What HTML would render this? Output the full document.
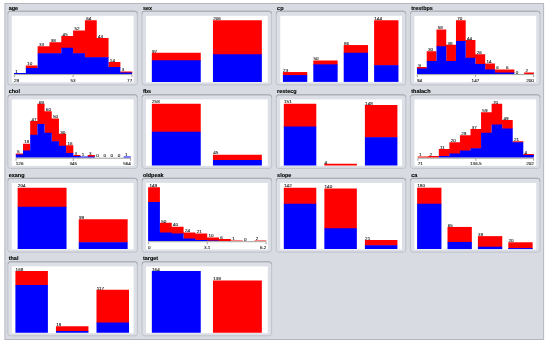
<!DOCTYPE html>
<html><head><meta charset="utf-8"><style>
html,body{margin:0;padding:0;background:#fff;width:550px;height:343px;overflow:hidden}
svg{display:block}
.t{font-family:"Liberation Sans",Arial,sans-serif;font-weight:bold;font-size:5.85px;fill:#000;stroke:#000;stroke-width:0.12px}
.n{font-family:"Liberation Sans",Arial,sans-serif;font-size:4.2px;fill:#111;stroke:#111;stroke-width:0.08px}
.ax{stroke:#555;stroke-width:0.55}
</style></head><body>
<svg width="550" height="343" viewBox="0 0 550 343">
<rect x="4.9" y="3.5" width="538.7" height="336" fill="#d8dbe2" stroke="#b3b6bd" stroke-width="1"/>
<rect x="7.8" y="11.2" width="129.6" height="73.7" rx="2.5" fill="#dcdfe5" stroke="#b7bac1" stroke-width="0.8"/>
<path d="M8 13.7 Q7.8 11.2 10.3 11.2 L134.9 11.2 Q137.4 11.2 137.2 13.7" fill="none" stroke="#a6a9b0" stroke-width="1"/>
<rect x="11.8" y="15.8" width="121.8" height="66.5" fill="#fff"/>
<text transform="translate(8.7 9.5) scale(0.94 1)" class="t">age</text>
<path d="M14 73.9 L14 73.9 L25.82 73.9 L25.82 65.52 L37.64 65.52 L37.64 46.3 L49.46 46.3 L49.46 42.36 L61.28 42.36 L61.28 35.95 L73.1 35.95 L73.1 30.53 L84.92 30.53 L84.92 20.18 L96.74 20.18 L96.74 37.93 L108.56 37.93 L108.56 62.07 L120.38 62.07 L120.38 71.44 L132.2 71.44 L132.2 73.02 L120.38 73.02 L120.38 67.6 L108.56 67.6 L108.56 57.74 L96.74 57.74 L96.74 57.74 L84.92 57.74 L84.92 53.8 L73.1 53.8 L73.1 48.38 L61.28 48.38 L61.28 53.8 L49.46 53.8 L49.46 53.8 L37.64 53.8 L37.64 68.59 L25.82 68.59 L25.82 73.9 L14 73.9 Z" fill="#ff0000"/>
<path d="M14 73.9 L14 72.91 L25.82 72.91 L25.82 67.99 L37.64 67.99 L37.64 53.2 L49.46 53.2 L49.46 53.2 L61.28 53.2 L61.28 47.78 L73.1 47.78 L73.1 53.2 L84.92 53.2 L84.92 57.14 L96.74 57.14 L96.74 57.14 L108.56 57.14 L108.56 67 L120.38 67 L120.38 72.42 L132.2 72.42 L132.2 73.9 Z" fill="#0000ff"/>
<text transform="translate(15.3 72.66) scale(1.1 1)" class="n">1</text>
<text transform="translate(27.12 65.27) scale(1.1 1)" class="n">10</text>
<text transform="translate(38.94 46.05) scale(1.1 1)" class="n">33</text>
<text transform="translate(50.76 42.11) scale(1.1 1)" class="n">38</text>
<text transform="translate(62.58 35.7) scale(1.1 1)" class="n">45</text>
<text transform="translate(74.4 30.28) scale(1.1 1)" class="n">52</text>
<text transform="translate(86.22 19.93) scale(1.1 1)" class="n">64</text>
<text transform="translate(98.04 37.68) scale(1.1 1)" class="n">43</text>
<text transform="translate(109.86 61.82) scale(1.1 1)" class="n">14</text>
<text transform="translate(121.68 71.19) scale(1.1 1)" class="n">3</text>
<line x1="14" y1="74.6" x2="132.2" y2="74.6" class="ax"/>
<line x1="14.25" y1="75" x2="14.25" y2="77.2" class="ax"/>
<line x1="73.1" y1="75" x2="73.1" y2="77.2" class="ax"/>
<line x1="131.95" y1="75" x2="131.95" y2="77.2" class="ax"/>
<text transform="translate(14 81.5) scale(1.1 1)" class="n">29</text>
<text transform="translate(73.1 81.5) scale(1.1 1)" class="n" text-anchor="middle">53</text>
<text transform="translate(132.2 81.5) scale(1.1 1)" class="n" text-anchor="end">77</text>
<rect x="410.4" y="11.2" width="129.6" height="73.7" rx="2.5" fill="#dcdfe5" stroke="#b7bac1" stroke-width="0.8"/>
<path d="M410.6 13.7 Q410.4 11.2 412.9 11.2 L537.5 11.2 Q540 11.2 539.8 13.7" fill="none" stroke="#a6a9b0" stroke-width="1"/>
<rect x="414.4" y="15.8" width="121.8" height="66.5" fill="#fff"/>
<text transform="translate(411.3 9.5) scale(0.94 1)" class="t">trestbps</text>
<path d="M417 69.08 L417 67 L426.74 67 L426.74 51.23 L436.48 51.23 L436.48 29.55 L446.22 29.55 L446.22 44.82 L455.96 44.82 L455.96 20.18 L465.7 20.18 L465.7 39.9 L475.44 39.9 L475.44 54.19 L485.18 54.19 L485.18 63.55 L494.92 63.55 L494.92 69.46 L504.66 69.46 L504.66 69.46 L514.4 69.46 L514.4 73.9 L524.14 73.9 L524.14 72.42 L533.88 72.42 L533.88 73.9 L524.14 73.9 L524.14 73.9 L514.4 73.9 L514.4 73.02 L504.66 73.02 L504.66 73.02 L494.92 73.02 L494.92 70.06 L485.18 70.06 L485.18 64.64 L475.44 64.64 L475.44 58.24 L465.7 58.24 L465.7 41.48 L455.96 41.48 L455.96 61.69 L446.22 61.69 L446.22 46.9 L436.48 46.9 L436.48 61.69 L426.74 61.69 L426.74 69.08 L417 69.08 Z" fill="#ff0000"/>
<path d="M417 73.9 L417 68.48 L426.74 68.48 L426.74 61.09 L436.48 61.09 L436.48 46.3 L446.22 46.3 L446.22 61.09 L455.96 61.09 L455.96 40.88 L465.7 40.88 L465.7 57.64 L475.44 57.64 L475.44 64.04 L485.18 64.04 L485.18 69.46 L494.92 69.46 L494.92 72.42 L504.66 72.42 L504.66 72.42 L514.4 72.42 L514.4 73.9 L524.14 73.9 L524.14 73.9 L533.88 73.9 L533.88 73.9 Z" fill="#0000ff"/>
<text transform="translate(418.3 66.75) scale(1.1 1)" class="n">9</text>
<text transform="translate(428.04 50.98) scale(1.1 1)" class="n">30</text>
<text transform="translate(437.78 29.3) scale(1.1 1)" class="n">58</text>
<text transform="translate(447.52 44.57) scale(1.1 1)" class="n">38</text>
<text transform="translate(457.26 19.93) scale(1.1 1)" class="n">70</text>
<text transform="translate(467 39.65) scale(1.1 1)" class="n">44</text>
<text transform="translate(476.74 53.94) scale(1.1 1)" class="n">26</text>
<text transform="translate(486.48 63.3) scale(1.1 1)" class="n">14</text>
<text transform="translate(496.22 69.21) scale(1.1 1)" class="n">6</text>
<text transform="translate(505.96 69.21) scale(1.1 1)" class="n">6</text>
<text transform="translate(515.7 73.65) scale(1.1 1)" class="n">0</text>
<text transform="translate(525.44 72.17) scale(1.1 1)" class="n">2</text>
<line x1="417" y1="74.6" x2="533.88" y2="74.6" class="ax"/>
<line x1="417.25" y1="75" x2="417.25" y2="77.2" class="ax"/>
<line x1="475.44" y1="75" x2="475.44" y2="77.2" class="ax"/>
<line x1="533.63" y1="75" x2="533.63" y2="77.2" class="ax"/>
<text transform="translate(417 81.5) scale(1.1 1)" class="n">94</text>
<text transform="translate(475.44 81.5) scale(1.1 1)" class="n" text-anchor="middle">147</text>
<text transform="translate(533.88 81.5) scale(1.1 1)" class="n" text-anchor="end">200</text>
<rect x="7.8" y="94.8" width="129.6" height="73.6" rx="2.5" fill="#dcdfe5" stroke="#b7bac1" stroke-width="0.8"/>
<path d="M8 97.3 Q7.8 94.8 10.3 94.8 L134.9 94.8 Q137.4 94.8 137.2 97.3" fill="none" stroke="#a6a9b0" stroke-width="1"/>
<rect x="11.8" y="99.4" width="121.8" height="66.4" fill="#fff"/>
<text transform="translate(8.7 93.1) scale(0.94 1)" class="t">chol</text>
<path d="M15.8 155.14 L15.8 153.56 L22.99 153.56 L22.99 143.7 L30.18 143.7 L30.18 121.03 L37.37 121.03 L37.37 103.78 L44.56 103.78 L44.56 111.18 L51.75 111.18 L51.75 118.57 L58.94 118.57 L58.94 133.85 L66.13 133.85 L66.13 145.18 L73.32 145.18 L73.32 155.04 L80.51 155.04 L80.51 157.5 L87.7 157.5 L87.7 155.04 L94.89 155.04 L94.89 157.5 L102.08 157.5 L102.08 157.5 L109.27 157.5 L109.27 157.5 L116.46 157.5 L116.46 157.5 L123.65 157.5 L123.65 157.5 L130.84 157.5 L130.84 157.5 L123.65 157.5 L123.65 157.5 L116.46 157.5 L116.46 157.5 L109.27 157.5 L109.27 157.5 L102.08 157.5 L102.08 157.5 L94.89 157.5 L94.89 157.11 L87.7 157.11 L87.7 157.5 L80.51 157.5 L80.51 156.62 L73.32 156.62 L73.32 153.66 L66.13 153.66 L66.13 146.27 L58.94 146.27 L58.94 141.84 L51.75 141.84 L51.75 133.46 L44.56 133.46 L44.56 124.59 L37.37 124.59 L37.37 135.43 L30.18 135.43 L30.18 151.2 L22.99 151.2 L22.99 155.14 L15.8 155.14 Z" fill="#ff0000"/>
<path d="M15.8 157.5 L15.8 154.54 L22.99 154.54 L22.99 150.6 L30.18 150.6 L30.18 134.83 L37.37 134.83 L37.37 123.99 L44.56 123.99 L44.56 132.86 L51.75 132.86 L51.75 141.24 L58.94 141.24 L58.94 145.67 L66.13 145.67 L66.13 153.06 L73.32 153.06 L73.32 156.02 L80.51 156.02 L80.51 156.51 L87.7 156.51 L87.7 156.51 L94.89 156.51 L94.89 157.5 L102.08 157.5 L102.08 157.5 L109.27 157.5 L109.27 157.5 L116.46 157.5 L116.46 157.5 L123.65 157.5 L123.65 156.51 L130.84 156.51 L130.84 157.5 Z" fill="#0000ff"/>
<text transform="translate(17.1 153.31) scale(1.1 1)" class="n">5</text>
<text transform="translate(24.29 143.45) scale(1.1 1)" class="n">18</text>
<text transform="translate(31.48 120.78) scale(1.1 1)" class="n">47</text>
<text transform="translate(38.67 103.53) scale(1.1 1)" class="n">69</text>
<text transform="translate(45.86 110.93) scale(1.1 1)" class="n">60</text>
<text transform="translate(53.05 118.32) scale(1.1 1)" class="n">50</text>
<text transform="translate(60.24 133.6) scale(1.1 1)" class="n">30</text>
<text transform="translate(67.43 144.93) scale(1.1 1)" class="n">16</text>
<text transform="translate(74.62 154.79) scale(1.1 1)" class="n">3</text>
<text transform="translate(81.81 156.26) scale(1.1 1)" class="n">1</text>
<text transform="translate(89 154.79) scale(1.1 1)" class="n">3</text>
<text transform="translate(96.19 157.25) scale(1.1 1)" class="n">0</text>
<text transform="translate(103.38 157.25) scale(1.1 1)" class="n">0</text>
<text transform="translate(110.57 157.25) scale(1.1 1)" class="n">0</text>
<text transform="translate(117.76 157.25) scale(1.1 1)" class="n">0</text>
<text transform="translate(124.95 156.26) scale(1.1 1)" class="n">1</text>
<line x1="15.8" y1="158.2" x2="130.84" y2="158.2" class="ax"/>
<line x1="16.05" y1="158.6" x2="16.05" y2="160.8" class="ax"/>
<line x1="73.32" y1="158.6" x2="73.32" y2="160.8" class="ax"/>
<line x1="130.59" y1="158.6" x2="130.59" y2="160.8" class="ax"/>
<text transform="translate(15.8 165.1) scale(1.1 1)" class="n">126</text>
<text transform="translate(73.32 165.1) scale(1.1 1)" class="n" text-anchor="middle">345</text>
<text transform="translate(130.84 165.1) scale(1.1 1)" class="n" text-anchor="end">564</text>
<rect x="410.4" y="94.8" width="129.6" height="73.6" rx="2.5" fill="#dcdfe5" stroke="#b7bac1" stroke-width="0.8"/>
<path d="M410.6 97.3 Q410.4 94.8 412.9 94.8 L537.5 94.8 Q540 94.8 539.8 97.3" fill="none" stroke="#a6a9b0" stroke-width="1"/>
<rect x="414.4" y="99.4" width="121.8" height="66.4" fill="#fff"/>
<text transform="translate(411.3 93.1) scale(0.94 1)" class="t">thalach</text>
<path d="M417.7 157.5 L417.7 156.51 L428.26 156.51 L428.26 156.02 L438.82 156.02 L438.82 149.12 L449.38 149.12 L449.38 142.22 L459.94 142.22 L459.94 135.32 L470.5 135.32 L470.5 128.92 L481.06 128.92 L481.06 112.16 L491.62 112.16 L491.62 103.78 L502.18 103.78 L502.18 120.05 L512.74 120.05 L512.74 141.24 L523.3 141.24 L523.3 154.05 L533.86 154.05 L533.86 155.64 L523.3 155.64 L523.3 142.82 L512.74 142.82 L512.74 129.02 L502.18 129.02 L502.18 125.08 L491.62 125.08 L491.62 133.46 L481.06 133.46 L481.06 148.74 L470.5 148.74 L470.5 151.2 L459.94 151.2 L459.94 154.16 L449.38 154.16 L449.38 156.62 L438.82 156.62 L438.82 157.5 L428.26 157.5 L428.26 157.5 L417.7 157.5 Z" fill="#ff0000"/>
<path d="M417.7 157.5 L417.7 157.5 L428.26 157.5 L428.26 157.5 L438.82 157.5 L438.82 156.02 L449.38 156.02 L449.38 153.56 L459.94 153.56 L459.94 150.6 L470.5 150.6 L470.5 148.14 L481.06 148.14 L481.06 132.86 L491.62 132.86 L491.62 124.48 L502.18 124.48 L502.18 128.42 L512.74 128.42 L512.74 142.22 L523.3 142.22 L523.3 155.04 L533.86 155.04 L533.86 157.5 Z" fill="#0000ff"/>
<text transform="translate(419 156.26) scale(1.1 1)" class="n">1</text>
<text transform="translate(429.56 155.77) scale(1.1 1)" class="n">2</text>
<text transform="translate(440.12 148.87) scale(1.1 1)" class="n">11</text>
<text transform="translate(450.68 141.97) scale(1.1 1)" class="n">20</text>
<text transform="translate(461.24 135.07) scale(1.1 1)" class="n">29</text>
<text transform="translate(471.8 128.67) scale(1.1 1)" class="n">37</text>
<text transform="translate(482.36 111.91) scale(1.1 1)" class="n">59</text>
<text transform="translate(492.92 103.53) scale(1.1 1)" class="n">70</text>
<text transform="translate(503.48 119.8) scale(1.1 1)" class="n">49</text>
<text transform="translate(514.04 140.99) scale(1.1 1)" class="n">21</text>
<text transform="translate(524.6 153.8) scale(1.1 1)" class="n">4</text>
<line x1="417.7" y1="158.2" x2="533.86" y2="158.2" class="ax"/>
<line x1="417.95" y1="158.6" x2="417.95" y2="160.8" class="ax"/>
<line x1="475.78" y1="158.6" x2="475.78" y2="160.8" class="ax"/>
<line x1="533.61" y1="158.6" x2="533.61" y2="160.8" class="ax"/>
<text transform="translate(417.7 165.1) scale(1.1 1)" class="n">71</text>
<text transform="translate(475.78 165.1) scale(1.1 1)" class="n" text-anchor="middle">136.5</text>
<text transform="translate(533.86 165.1) scale(1.1 1)" class="n" text-anchor="end">202</text>
<rect x="142" y="178.3" width="129.6" height="73.8" rx="2.5" fill="#dcdfe5" stroke="#b7bac1" stroke-width="0.8"/>
<path d="M142.2 180.8 Q142 178.3 144.5 178.3 L269.1 178.3 Q271.6 178.3 271.4 180.8" fill="none" stroke="#a6a9b0" stroke-width="1"/>
<rect x="146" y="182.9" width="121.8" height="66.6" fill="#fff"/>
<text transform="translate(142.9 176.6) scale(0.94 1)" class="t">oldpeak</text>
<path d="M148.1 202.67 L148.1 187.28 L159.92 187.28 L159.92 222.77 L171.75 222.77 L171.75 226.71 L183.57 226.71 L183.57 232.62 L195.4 232.62 L195.4 233.61 L207.22 233.61 L207.22 237.55 L219.05 237.55 L219.05 239.03 L230.88 239.03 L230.88 240.51 L242.7 240.51 L242.7 241 L254.52 241 L254.52 240.51 L266.35 240.51 L266.35 241 L254.52 241 L254.52 241 L242.7 241 L242.7 241 L230.88 241 L230.88 241 L219.05 241 L219.05 241 L207.22 241 L207.22 240.61 L195.4 240.61 L195.4 239.14 L183.57 239.14 L183.57 234.21 L171.75 234.21 L171.75 233.22 L159.92 233.22 L159.92 202.67 L148.1 202.67 Z" fill="#ff0000"/>
<path d="M148.1 241 L148.1 202.07 L159.92 202.07 L159.92 232.62 L171.75 232.62 L171.75 233.61 L183.57 233.61 L183.57 238.54 L195.4 238.54 L195.4 240.01 L207.22 240.01 L207.22 240.51 L219.05 240.51 L219.05 241 L230.88 241 L230.88 241 L242.7 241 L242.7 241 L254.52 241 L254.52 241 L266.35 241 L266.35 241 Z" fill="#0000ff"/>
<text transform="translate(149.4 187.03) scale(1.1 1)" class="n">149</text>
<text transform="translate(161.22 222.52) scale(1.1 1)" class="n">50</text>
<text transform="translate(173.05 226.46) scale(1.1 1)" class="n">40</text>
<text transform="translate(184.88 232.37) scale(1.1 1)" class="n">24</text>
<text transform="translate(196.7 233.36) scale(1.1 1)" class="n">21</text>
<text transform="translate(208.53 237.3) scale(1.1 1)" class="n">10</text>
<text transform="translate(220.35 238.78) scale(1.1 1)" class="n">6</text>
<text transform="translate(232.18 240.26) scale(1.1 1)" class="n">1</text>
<text transform="translate(244 240.75) scale(1.1 1)" class="n">0</text>
<text transform="translate(255.82 240.26) scale(1.1 1)" class="n">2</text>
<line x1="148.1" y1="241.7" x2="266.35" y2="241.7" class="ax"/>
<line x1="148.35" y1="242.1" x2="148.35" y2="244.3" class="ax"/>
<line x1="207.22" y1="242.1" x2="207.22" y2="244.3" class="ax"/>
<line x1="266.1" y1="242.1" x2="266.1" y2="244.3" class="ax"/>
<text transform="translate(148.1 248.6) scale(1.1 1)" class="n">0</text>
<text transform="translate(207.22 248.6) scale(1.1 1)" class="n" text-anchor="middle">3.1</text>
<text transform="translate(266.35 248.6) scale(1.1 1)" class="n" text-anchor="end">6.2</text>
<rect x="142" y="11.2" width="129.6" height="73.7" rx="2.5" fill="#dcdfe5" stroke="#b7bac1" stroke-width="0.8"/>
<path d="M142.2 13.7 Q142 11.2 144.5 11.2 L269.1 11.2 Q271.6 11.2 271.4 13.7" fill="none" stroke="#a6a9b0" stroke-width="1"/>
<rect x="146" y="15.8" width="121.8" height="66.5" fill="#fff"/>
<text transform="translate(142.9 9.5) scale(0.94 1)" class="t">sex</text>
<path d="M151.85 60.93 V52.85 H200.75 V60.93 Z" fill="#ff0000"/>
<path d="M151.85 81.9 V60.33 H200.75 V81.9 Z" fill="#0000ff"/>
<text transform="translate(152.05 52.6) scale(1.1 1)" class="n">97</text>
<path d="M212.95 54.94 V20.2 H261.85 V54.94 Z" fill="#ff0000"/>
<path d="M212.95 81.9 V54.34 H261.85 V81.9 Z" fill="#0000ff"/>
<text transform="translate(213.15 19.95) scale(1.1 1)" class="n">206</text>
<rect x="276.2" y="11.2" width="129.6" height="73.7" rx="2.5" fill="#dcdfe5" stroke="#b7bac1" stroke-width="0.8"/>
<path d="M276.4 13.7 Q276.2 11.2 278.7 11.2 L403.3 11.2 Q405.8 11.2 405.6 13.7" fill="none" stroke="#a6a9b0" stroke-width="1"/>
<rect x="280.2" y="15.8" width="121.8" height="66.5" fill="#fff"/>
<text transform="translate(277.1 9.5) scale(0.94 1)" class="t">cp</text>
<path d="M282.9 75.64 V72.05 H307.25 V75.64 Z" fill="#ff0000"/>
<path d="M282.9 81.9 V75.04 H307.25 V81.9 Z" fill="#0000ff"/>
<text transform="translate(283.1 71.8) scale(1.1 1)" class="n">23</text>
<path d="M313.3 64.93 V60.48 H337.65 V64.93 Z" fill="#ff0000"/>
<path d="M313.3 81.9 V64.33 H337.65 V81.9 Z" fill="#0000ff"/>
<text transform="translate(313.5 60.23) scale(1.1 1)" class="n">50</text>
<path d="M343.7 53.36 V45.05 H368.05 V53.36 Z" fill="#ff0000"/>
<path d="M343.7 81.9 V52.76 H368.05 V81.9 Z" fill="#0000ff"/>
<text transform="translate(343.9 44.8) scale(1.1 1)" class="n">86</text>
<path d="M374.1 65.79 V20.2 H398.45 V65.79 Z" fill="#ff0000"/>
<path d="M374.1 81.9 V65.19 H398.45 V81.9 Z" fill="#0000ff"/>
<text transform="translate(374.3 19.95) scale(1.1 1)" class="n">144</text>
<rect x="142" y="94.8" width="129.6" height="73.6" rx="2.5" fill="#dcdfe5" stroke="#b7bac1" stroke-width="0.8"/>
<path d="M142.2 97.3 Q142 94.8 144.5 94.8 L269.1 94.8 Q271.6 94.8 271.4 97.3" fill="none" stroke="#a6a9b0" stroke-width="1"/>
<rect x="146" y="99.4" width="121.8" height="66.4" fill="#fff"/>
<text transform="translate(142.9 93.1) scale(0.94 1)" class="t">fbs</text>
<path d="M151.85 132.28 V103.7 H200.75 V132.28 Z" fill="#ff0000"/>
<path d="M151.85 165.4 V131.68 H200.75 V165.4 Z" fill="#0000ff"/>
<text transform="translate(152.05 103.45) scale(1.1 1)" class="n">258</text>
<path d="M212.95 160.5 V154.64 H261.85 V160.5 Z" fill="#ff0000"/>
<path d="M212.95 165.4 V159.9 H261.85 V165.4 Z" fill="#0000ff"/>
<text transform="translate(213.15 154.39) scale(1.1 1)" class="n">45</text>
<rect x="276.2" y="94.8" width="129.6" height="73.6" rx="2.5" fill="#dcdfe5" stroke="#b7bac1" stroke-width="0.8"/>
<path d="M276.4 97.3 Q276.2 94.8 278.7 94.8 L403.3 94.8 Q405.8 94.8 405.6 97.3" fill="none" stroke="#a6a9b0" stroke-width="1"/>
<rect x="280.2" y="99.4" width="121.8" height="66.4" fill="#fff"/>
<text transform="translate(277.1 93.1) scale(0.94 1)" class="t">restecg</text>
<path d="M283.8 127.18 V103.7 H316.3 V127.18 Z" fill="#ff0000"/>
<path d="M283.8 165.4 V126.58 H316.3 V165.4 Z" fill="#0000ff"/>
<text transform="translate(284 103.45) scale(1.1 1)" class="n">151</text>
<path d="M324.35 165.4 V163.77 H356.85 V165.4 Z" fill="#ff0000"/>
<text transform="translate(324.55 163.52) scale(1.1 1)" class="n">4</text>
<path d="M364.9 137.81 V104.93 H397.4 V137.81 Z" fill="#ff0000"/>
<path d="M364.9 165.4 V137.21 H397.4 V165.4 Z" fill="#0000ff"/>
<text transform="translate(365.1 104.68) scale(1.1 1)" class="n">148</text>
<rect x="7.8" y="178.3" width="129.6" height="73.8" rx="2.5" fill="#dcdfe5" stroke="#b7bac1" stroke-width="0.8"/>
<path d="M8 180.8 Q7.8 178.3 10.3 178.3 L134.9 178.3 Q137.4 178.3 137.2 180.8" fill="none" stroke="#a6a9b0" stroke-width="1"/>
<rect x="11.8" y="182.9" width="121.8" height="66.6" fill="#fff"/>
<text transform="translate(8.7 176.6) scale(0.94 1)" class="t">exang</text>
<path d="M17.65 207.26 V187.7 H66.55 V207.26 Z" fill="#ff0000"/>
<path d="M17.65 249.1 V206.66 H66.55 V249.1 Z" fill="#0000ff"/>
<text transform="translate(17.85 187.45) scale(1.1 1)" class="n">204</text>
<path d="M78.75 242.78 V219.3 H127.65 V242.78 Z" fill="#ff0000"/>
<path d="M78.75 249.1 V242.18 H127.65 V249.1 Z" fill="#0000ff"/>
<text transform="translate(78.95 219.05) scale(1.1 1)" class="n">99</text>
<rect x="276.2" y="178.3" width="129.6" height="73.8" rx="2.5" fill="#dcdfe5" stroke="#b7bac1" stroke-width="0.8"/>
<path d="M276.4 180.8 Q276.2 178.3 278.7 178.3 L403.3 178.3 Q405.8 178.3 405.6 180.8" fill="none" stroke="#a6a9b0" stroke-width="1"/>
<rect x="280.2" y="182.9" width="121.8" height="66.6" fill="#fff"/>
<text transform="translate(277.1 176.6) scale(0.94 1)" class="t">slope</text>
<path d="M283.8 204.3 V187.7 H316.3 V204.3 Z" fill="#ff0000"/>
<path d="M283.8 249.1 V203.7 H316.3 V249.1 Z" fill="#0000ff"/>
<text transform="translate(284 187.45) scale(1.1 1)" class="n">142</text>
<path d="M324.35 228.95 V188.56 H356.85 V228.95 Z" fill="#ff0000"/>
<path d="M324.35 249.1 V228.35 H356.85 V249.1 Z" fill="#0000ff"/>
<text transform="translate(324.55 188.31) scale(1.1 1)" class="n">140</text>
<path d="M364.9 245.81 V240.02 H397.4 V245.81 Z" fill="#ff0000"/>
<path d="M364.9 249.1 V245.21 H397.4 V249.1 Z" fill="#0000ff"/>
<text transform="translate(365.1 239.77) scale(1.1 1)" class="n">21</text>
<rect x="410.4" y="178.3" width="129.6" height="73.8" rx="2.5" fill="#dcdfe5" stroke="#b7bac1" stroke-width="0.8"/>
<path d="M410.6 180.8 Q410.4 178.3 412.9 178.3 L537.5 178.3 Q540 178.3 539.8 180.8" fill="none" stroke="#a6a9b0" stroke-width="1"/>
<rect x="414.4" y="182.9" width="121.8" height="66.6" fill="#fff"/>
<text transform="translate(411.3 176.6) scale(0.94 1)" class="t">ca</text>
<path d="M417.1 204.33 V187.7 H441.45 V204.33 Z" fill="#ff0000"/>
<path d="M417.1 249.1 V203.73 H441.45 V249.1 Z" fill="#0000ff"/>
<text transform="translate(417.3 187.45) scale(1.1 1)" class="n">180</text>
<path d="M447.5 242.54 V226.93 H471.85 V242.54 Z" fill="#ff0000"/>
<path d="M447.5 249.1 V241.94 H471.85 V249.1 Z" fill="#0000ff"/>
<text transform="translate(447.7 226.68) scale(1.1 1)" class="n">65</text>
<path d="M477.9 247.31 V236.14 H502.25 V247.31 Z" fill="#ff0000"/>
<path d="M477.9 249.1 V246.71 H502.25 V249.1 Z" fill="#0000ff"/>
<text transform="translate(478.1 235.89) scale(1.1 1)" class="n">38</text>
<path d="M508.3 248.68 V242.28 H532.65 V248.68 Z" fill="#ff0000"/>
<path d="M508.3 249.1 V248.08 H532.65 V249.1 Z" fill="#0000ff"/>
<text transform="translate(508.5 242.03) scale(1.1 1)" class="n">20</text>
<rect x="7.8" y="261.8" width="129.6" height="74" rx="2.5" fill="#dcdfe5" stroke="#b7bac1" stroke-width="0.8"/>
<path d="M8 264.3 Q7.8 261.8 10.3 261.8 L134.9 261.8 Q137.4 261.8 137.2 264.3" fill="none" stroke="#a6a9b0" stroke-width="1"/>
<rect x="11.8" y="266.4" width="121.8" height="66.8" fill="#fff"/>
<text transform="translate(8.7 260.1) scale(0.94 1)" class="t">thal</text>
<path d="M15.4 285.58 V271 H47.9 V285.58 Z" fill="#ff0000"/>
<path d="M15.4 332.8 V284.98 H47.9 V332.8 Z" fill="#0000ff"/>
<text transform="translate(15.6 270.75) scale(1.1 1)" class="n">168</text>
<path d="M55.95 331.56 V326.18 H88.45 V331.56 Z" fill="#ff0000"/>
<path d="M55.95 332.8 V330.96 H88.45 V332.8 Z" fill="#0000ff"/>
<text transform="translate(56.15 325.93) scale(1.1 1)" class="n">18</text>
<path d="M96.5 323.1 V289.76 H129 V323.1 Z" fill="#ff0000"/>
<path d="M96.5 332.8 V322.5 H129 V332.8 Z" fill="#0000ff"/>
<text transform="translate(96.7 289.51) scale(1.1 1)" class="n">117</text>
<rect x="142" y="261.8" width="129.6" height="74" rx="2.5" fill="#dcdfe5" stroke="#b7bac1" stroke-width="0.8"/>
<path d="M142.2 264.3 Q142 261.8 144.5 261.8 L269.1 261.8 Q271.6 261.8 271.4 264.3" fill="none" stroke="#a6a9b0" stroke-width="1"/>
<rect x="146" y="266.4" width="121.8" height="66.8" fill="#fff"/>
<text transform="translate(142.9 260.1) scale(0.94 1)" class="t">target</text>
<path d="M151.85 332.8 V271 H200.75 V332.8 Z" fill="#0000ff"/>
<text transform="translate(152.05 270.75) scale(1.1 1)" class="n">164</text>
<path d="M212.95 332.8 V280.42 H261.85 V332.8 Z" fill="#ff0000"/>
<text transform="translate(213.15 280.17) scale(1.1 1)" class="n">139</text>
</svg>
</body></html>
